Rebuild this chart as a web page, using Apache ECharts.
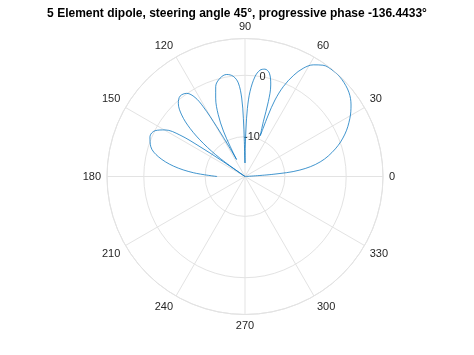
<!DOCTYPE html>
<html>
<head>
<meta charset="utf-8">
<script src="https://cdn.jsdelivr.net/npm/echarts@6/dist/echarts.min.js"></script>
<style>html,body{margin:0;padding:0;background:#fff}#c{width:474px;height:355px}</style>
</head>
<body>
<div id="c"></div>
<script>
// Angles (degrees) and pattern level (dB)
const angles = [0, 4, 4.5, 6.7, 11, 17, 23, 29, 34, 39, 45, 50, 55, 58.5, 61.7, 64.4, 66.9, 68.6, 69.3, 69.4, 69.5,
  71.5, 72.7, 74.3, 76.7, 79.5, 82, 84.3, 86.6, 88, 88.8, 89.6, 90,
  91.1, 91.6, 92.4, 94.1, 96.7, 100.2, 104.2, 108, 110.5, 113.4, 115.4, 116.2, 116.5,
  118, 119.6, 120.9, 122.3, 125, 128.9, 132.3, 135.8, 138.8, 141.5, 143.9, 145,
  145.7, 146.5, 147.5, 149.8, 153, 157.3, 162.5, 167.1, 171.7, 175.8, 180];
const levels = [-16.5, -16.5, -11.9, -7.5, -4.0, -1.1, 1.2, 3.05, 4.35, 5.3, 5.85, 5.95, 5.65, 4.85, 3.55, 1.75, -0.55, -3.1, -5.8, -8.1, -9.4,
  -7.1, -3.7, -1.0, 0.8, 1.3, 1.0, -0.15, -2.6, -5.4, -8.6, -11.9, -14.3,
  -10.8, -7.0, -3.7, -1.2, -0.05, 0.4, 0.05, -1.05, -2.85, -5.5, -8.3, -11.0, -13.4,
  -11.3, -7.15, -3.25, -1.25, 0.05, 0.35, -0.35, -2.1, -4.6, -7.8, -11.5, -16.5,
  -12.2, -7.7, -3.9, -1.4, -0.05, 0.3, -0.4, -2.0, -4.7, -8.05, -11.95];
const rMin = -16.5, rMax = 6;
const radialTickLabels = [-10, 0];
const titleText = '5 Element dipole, steering angle 45°, progressive phase -136.4433°';

const chart = echarts.init(document.getElementById('c'), null, {renderer: 'canvas'});
const font = 'Liberation Sans, Arial, Helvetica, sans-serif';
const grid = '#e3e3e3';
const pts = angles.map((a, i) => [Math.max(levels[i], rMin), a]);
chart.setOption({
  animation: false,
  backgroundColor: '#fff',
  title: {
    text: titleText, left: 'center', top: 3,
    textStyle: {fontFamily: font, fontSize: 12, fontWeight: 'bold', color: '#000'}
  },
  polar: [
    {center: [245, 176.5], radius: 138},
    {center: [245, 176.5], radius: 138}
  ],
  angleAxis: [
    {
      polarIndex: 0, type: 'value', min: 0, max: 360, interval: 30,
      startAngle: 0, clockwise: false,
      axisLine: {show: true, lineStyle: {color: grid, width: 1}},
      axisTick: {show: false},
      splitLine: {show: true, lineStyle: {color: grid, width: 1}},
      axisLabel: {show: true, margin: 6, color: '#262626', fontFamily: font, fontSize: 11,
        formatter: v => (v >= 360 ? '' : String(v))}
    },
    {
      polarIndex: 1, type: 'value', min: 0, max: 360, startAngle: 80, clockwise: false,
      show: false
    }
  ],
  radiusAxis: [
    {
      polarIndex: 0, type: 'value', min: rMin, max: rMax, splitNumber: 2,
      axisLine: {show: false}, axisTick: {show: false}, axisLabel: {show: false},
      splitLine: {show: true, lineStyle: {color: grid, width: 1}}
    },
    {
      polarIndex: 1, type: 'value', min: rMin, max: rMax, splitNumber: 2,
      axisLine: {show: false}, axisTick: {show: false}, splitLine: {show: false},
      axisLabel: {show: true, margin: 0, color: '#262626', fontFamily: font, fontSize: 11,
        align: 'center', verticalAlign: 'middle',
        formatter: v => (radialTickLabels.indexOf(v) >= 0 ? String(v) : '')}
    }
  ],
  series: [{
    type: 'line', coordinateSystem: 'polar', polarIndex: 0,
    data: pts, showSymbol: false, smooth: 0.35,
    lineStyle: {color: '#0072BD', width: 0.75}
  }]
});
</script>
</body>
</html>
